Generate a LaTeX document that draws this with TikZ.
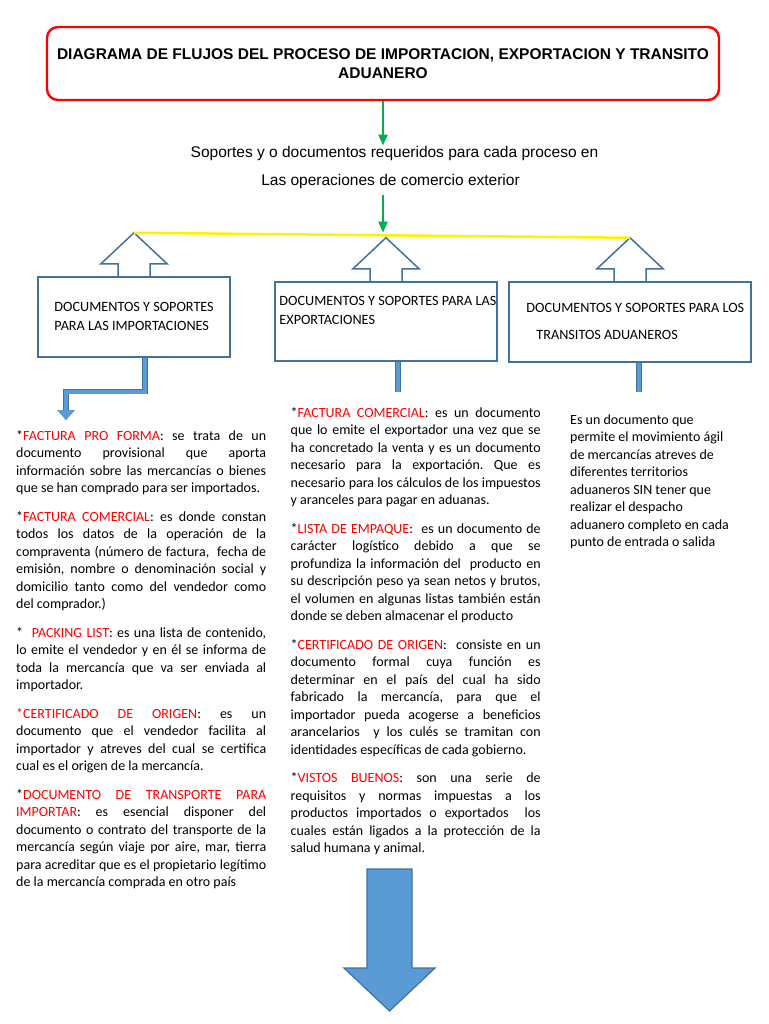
\documentclass[tikz,border=0pt]{standalone}
\usepackage{fontspec}
\setmainfont{Carlito}
\newfontfamily\arialf{Liberation Sans}
\usetikzlibrary{arrows.meta}
\definecolor{boxblue}{HTML}{41719C}
\definecolor{fillblue}{HTML}{5B9BD5}
\definecolor{arrgreen}{HTML}{00B050}
\newcommand\rojo[1]{\textcolor{red}{#1}}
\hyphenpenalty=10000
\tolerance=10000
\frenchspacing
\begin{document}
\begin{tikzpicture}[x=1pt,y=-1pt,
    titlebox/.style={draw=red,line width=2.4pt,rounded corners=11pt,minimum width=672pt,minimum height=73pt,inner sep=0pt,align=center,font=\arialf\bfseries\fontsize{15.5}{19}\selectfont},
    subtext/.style={inner sep=0pt,font=\arialf\fontsize{15.5}{18}\selectfont},
    docbox/.style={draw=boxblue,line width=1.5pt,inner sep=0pt},
    boxtext/.style={inner sep=0pt,anchor=north west,align=left,font=\fontsize{14.2}{19}\selectfont},
    coltext/.style={inner sep=0pt,anchor=north west,font=\fontsize{14}{17.5}\selectfont},
    greenarrow/.style={arrgreen,line width=2.2pt,-{Triangle[width=9pt,length=11pt]}},
    uparrow/.style={draw=boxblue,line width=1.5pt,line join=miter},
    yellowline/.style={yellow,line width=2.5pt},
    stem/.style={fillblue,line width=3.6pt,preaction={draw=boxblue,line width=5.2pt}},
    blockdown/.style={fill=fillblue,draw=boxblue,line width=1.2pt}]
\fill[white] (0,0) rectangle (768,1024);
\useasboundingbox (0,0) rectangle (768,1024);
\node[titlebox] (title) at (383,63.5) {DIAGRAMA DE FLUJOS DEL PROCESO DE IMPORTACION, EXPORTACION Y TRANSITO\\ADUANERO};
\node[subtext] (sub1) at (394.5,153) {Soportes y o documentos requeridos para cada proceso en};
\node[subtext] (sub2) at (390.5,181) {Las operaciones de comercio exterior};
\node[docbox,minimum width=192pt,minimum height=80pt] (imp) at (134,317) {};
\node[docbox,minimum width=222pt,minimum height=79pt] (exp) at (386,321.5) {};
\node[docbox,minimum width=242pt,minimum height=80pt] (tra) at (630,322) {};
\node[boxtext] (imptxt) at ([shift={(17,25.5)}]imp.north west) {DOCUMENTOS Y SOPORTES\\PARA LAS IMPORTACIONES};
\node[boxtext] (exptxt) at ([shift={(5,14.5)}]exp.north west) {DOCUMENTOS Y SOPORTES PARA LAS\\EXPORTACIONES};
\node[boxtext] (tratxt) at ([shift={(18,21.5)}]tra.north west) {DOCUMENTOS Y SOPORTES PARA LOS\\[8pt]\hspace*{10pt}TRANSITOS ADUANEROS};
\foreach \b in {imp,exp,tra}{
    \draw[uparrow] (\b.north) ++(-16,0) -- ++(0,-12.5) -- ++(-17,0) -- ++(33,-31) -- ++(33,31) -- ++(-17,0) -- ++(0,12.5);
    \coordinate (\b-tip) at ([yshift=43.5pt]\b.north);
}
\draw[yellowline] (imp-tip) -- (tra-tip);
\draw[greenarrow] (title.south) -- (title.south |- sub1.north);
\draw[greenarrow,shorten <=7pt] (title.south |- sub2.south) -- (title.south |- imp-tip);
\node[coltext,text width=250pt,align=justify] (lcol) at (16,430) {\setlength{\parskip}{11pt}%
*\rojo{FACTURA PRO FORMA}: se trata de un\linebreak documento provisional que aporta\linebreak información sobre las mercancías o bienes\linebreak que se han comprado para ser importados.\par
*\rojo{FACTURA COMERCIAL}: es donde constan\linebreak todos los datos de la operación de la\linebreak compraventa (número de factura,\ \ fecha de\linebreak emisión, nombre o denominación social y\linebreak domicilio tanto como del vendedor como\linebreak del comprador.)\par
*\ \ \rojo{PACKING LIST}: es una lista de contenido,\linebreak lo emite el vendedor y en él se informa de\linebreak toda la mercancía que va ser enviada al\linebreak importador.\par
\rojo{*CERTIFICADO DE ORIGEN}: es un\linebreak documento que el vendedor facilita al\linebreak importador y atreves del cual se certifica\linebreak cual es el origen de la mercancía.\par
*\rojo{DOCUMENTO DE TRANSPORTE PARA}\linebreak \rojo{IMPORTAR}: es esencial disponer del\linebreak documento o contrato del transporte de la\linebreak mercancía según viaje por aire, mar, tierra\linebreak para acreditar que es el propietario legítimo\linebreak de la mercancía comprada en otro país};
\node[coltext,text width=250pt,align=justify] (mcol) at (290.5,407) {\setlength{\parskip}{11pt}%
*\rojo{FACTURA COMERCIAL}: es un documento\linebreak que lo emite el exportador una vez que se\linebreak ha concretado la venta y es un documento\linebreak necesario para la exportación. Que es\linebreak necesario para los cálculos de los impuestos\linebreak y aranceles para pagar en aduanas.\par
*\rojo{LISTA DE EMPAQUE}:\ \ es un documento de\linebreak carácter logístico debido a que se\linebreak profundiza la información del\ \ producto en\linebreak su descripción peso ya sean netos y brutos,\linebreak el volumen en algunas listas también están\linebreak donde se deben almacenar el producto\par
*\rojo{CERTIFICADO DE ORIGEN}:\ \ consiste en un\linebreak documento formal cuya función es\linebreak determinar en el país del cual ha sido\linebreak fabricado la mercancía, para que el\linebreak importador pueda acogerse a beneficios\linebreak arancelarios\ \ y los culés se tramitan con\linebreak identidades específicas de cada gobierno.\par
*\rojo{VISTOS BUENOS}: son una serie de\linebreak requisitos y normas impuestas a los\linebreak productos importados o exportados\ \ los\linebreak cuales están ligados a la protección de la\linebreak salud humana y animal.};
\node[coltext,align=left] (rcol) at (570,414.5) {Es un documento que\\permite el movimiento ágil\\de mercancías atreves de\\diferentes territorios\\aduaneros SIN tener que\\realizar el despacho\\aduanero completo en cada\\punto de entrada o salida};
\draw[stem,-{Triangle[width=17pt,length=10pt]},shorten >=10pt] ([xshift=11pt]imp.south) -- ++(0,34) -| ([xshift=50pt]lcol.north west);
\draw[stem,shorten >=15pt] ([xshift=12pt]exp.south) -- ([xshift=12pt]exp.south |- mcol.north);
\draw[stem,shorten >=23pt] ([xshift=9pt]tra.south) -- ([xshift=9pt]tra.south |- rcol.north);
\draw[blockdown] (367,869) -- (412,869) -- (412,968) -- (435,968) -- (389.5,1011) -- (344,968) -- (367,968) -- cycle;
\end{tikzpicture}
\end{document}
